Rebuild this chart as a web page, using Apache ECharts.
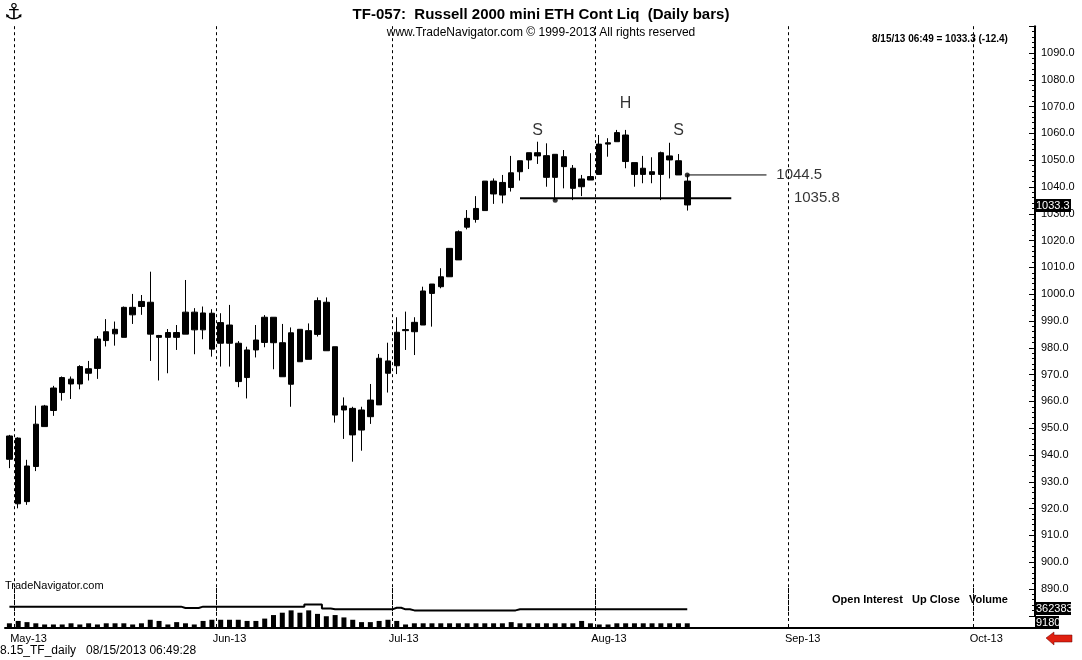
<!DOCTYPE html>
<html><head><meta charset="utf-8">
<script src="https://cdn.jsdelivr.net/npm/echarts@6/dist/echarts.min.js"></script>
<style>html,body{margin:0;padding:0;background:#fff}#c{width:1082px;height:660px}</style>
</head><body><div id="c"></div>
<script>
// OHLC per trading day: [open, close, low, high]
const ohlc = [
[938.4,947.1,935.1,947.5],[946.3,921.8,920.1,946.6],[922.6,935.9,921.4,938.2],[935.7,951.5,934.0,958.4],
[950.6,958.3,950.6,958.7],[956.6,965.0,954.6,965.8],[963.3,968.9,960.3,969.3],[966.5,968.3,960.9,969.3],
[966.5,973.0,964.5,973.5],[970.5,972.2,967.8,975.1],[972.3,983.3,968.4,984.4],[982.7,986.0,980.5,990.7],
[985.2,986.9,980.8,989.8],[983.9,995.1,983.9,995.4],[992.3,995.1,988.9,1000.1],[995.4,997.3,992.3,999.7],
[997.0,985.1,975.1,1008.4],[984.6,983.9,967.8,984.8],[983.9,985.7,970.5,987.0],[983.9,985.7,979.2,988.5],
[985.1,993.3,985.1,1005.3],[993.3,986.7,977.6,994.8],[986.7,993.0,983.2,995.4],[992.9,979.5,976.7,994.4],
[989.4,981.7,973.0,992.9],[988.5,981.7,973.0,996.0],[981.7,967.4,965.3,982.5],[979.2,968.9,961.1,980.4],
[979.2,982.9,976.4,988.5],[982.0,991.4,980.2,992.2],[991.4,981.9,972.0,991.4],[981.9,969.2,969.2,988.9],
[985.6,966.4,958.0,987.6],[974.8,986.9,974.8,986.9],[975.7,986.4,975.7,989.1],[985.0,997.6,984.2,998.8],
[997.0,978.9,978.9,998.8],[980.4,954.9,952.1,980.4],[956.8,958.3,946.0,961.5],[957.4,947.5,937.5,958.0],
[949.3,956.8,941.6,958.0],[954.3,960.5,951.6,966.5],[958.7,976.1,958.7,977.7],[970.5,975.1,963.3,981.9],
[973.3,985.8,970.2,991.4],[986.4,986.8,979.2,993.5],[986.0,989.5,977.3,991.4],[988.5,1001.2,988.5,1002.8],
[1000.3,1003.8,987.9,1003.8],[1002.8,1006.5,1002.2,1009.7],[1006.5,1017.1,1006.5,1017.1],[1012.8,1023.3,1012.8,1023.8],
[1025.0,1028.3,1024.2,1031.4],[1027.9,1032.0,1026.7,1036.6],[1031.2,1042.2,1031.2,1042.2],[1037.4,1042.2,1033.7,1043.2],
[1037.0,1041.7,1033.9,1044.5],[1039.8,1045.3,1038.3,1051.6],[1045.7,1049.8,1042.4,1049.8],[1050.1,1052.8,1046.7,1052.8],
[1051.6,1052.8,1048.6,1056.9],[1051.7,1043.6,1040.1,1056.3],[1052.2,1043.6,1035.1,1052.2],[1047.6,1051.3,1039.5,1053.8],
[1047.0,1039.5,1035.1,1048.2],[1040.1,1043.0,1036.6,1044.5],[1042.6,1043.9,1042.6,1052.6],[1044.7,1056.0,1044.7,1059.4],
[1056.0,1056.5,1051.3,1058.2],[1056.9,1060.3,1056.9,1061.3],[1059.4,1049.5,1047.0,1061.3],[1049.1,1044.7,1040.1,1049.1],
[1047.0,1044.7,1041.4,1051.6],[1045.7,1044.7,1041.4,1051.1],[1044.7,1052.8,1035.1,1053.2],[1051.6,1050.1,1043.2,1056.5],
[1049.8,1044.5,1044.5,1052.3],[1042.2,1033.3,1031.2,1044.5]
];
const volume = [4,6,5,4,3,3,3,4,3,4,3,4,4,4,3,4,7,6,3,5,4,3,6,7,7,7,7,6,6,8,11,13,15,13,15,12,10,11,9,7,5,5,6,7,6,3,4,4,4,4,4,4,4,4,4,4,4,5,4,4,4,4,4,4,4,6,4,3,3,4,4,4,4,4,4,4,4,4];
const openInterest = [363,363,363,363,363,363,363,363,363,363,363,363,363,363,363,363,363,363,363,363,362.5,362.5,363,363,363,363,363,363,363,363,363,363,363,363,363.8,363.8,362.3,362,362,362,362,362,362,362,362.6,362,361.6,361.6,361.6,361.6,361.6,361.6,361.6,361.6,361.6,361.6,361.6,361.6,362,362,362,362,362,362,362,362,362,362,362,362,362,362,362,362,362,362,362,362];
const totalSlots = 117;
const monthTicks = {1:'May-13',24:'Jun-13',44:'Jul-13',67:'Aug-13',89:'Sep-13',110:'Oct-13'};
const necklineLevel = 1035.8, breakLevel = 1044.5;
const necklineSpan = [58, 82], breakSpan = [77, 86];
const patternLabels = [['S',59.8,1061],['H',69.7,1071],['S',75.9,1061]];
const dots = [[62,1035.1],[77,1044.5]];

const cats = Array.from({length: totalSlots}, (_, i) => 'd' + i);
const monthIdx = Object.keys(monthTicks).map(Number);
const splitCfg = {show:true, interval:(i)=>monthIdx.includes(i), lineStyle:{color:'#000',type:[3,3],width:1}};

const chart = echarts.init(document.getElementById('c'));
chart.setOption({
  animation:false,
  textStyle:{fontFamily:'Liberation Sans, Arial, sans-serif'},
  title:[
    {text:'TF-057:  Russell 2000 mini ETH Cont Liq  (Daily bars)', left:'center', top:2, textStyle:{fontSize:15,fontWeight:'bold',color:'#000'}},
    {text:'www.TradeNavigator.com © 1999-2013 All rights reserved', left:'center', top:22, textStyle:{fontSize:12,fontWeight:'normal',color:'#000'}}
  ],
  grid:[
    {left:5,right:47,top:26.2,height:589.6},
    {left:5,right:47,top:588,bottom:32}
  ],
  xAxis:[
    {type:'category',data:cats,gridIndex:0,axisLine:{show:false},axisTick:{show:false},axisLabel:{show:false},splitLine:splitCfg},
    {type:'category',data:cats,gridIndex:1,axisLine:{lineStyle:{color:'#000',width:2}},axisTick:{show:false},
     axisLabel:{interval:(i)=>monthIdx.includes(i),formatter:(v,i)=>monthTicks[i]||'',color:'#000',fontSize:11,margin:5,align:'left',padding:[0,0,0,-8]},
     splitLine:splitCfg}
  ],
  yAxis:[
    {type:'value',gridIndex:0,position:'right',min:880,max:1100,interval:10,
     axisLine:{show:true,lineStyle:{color:'#000',width:2}},axisTick:{show:true,length:6,inside:true,lineStyle:{color:'#000'}},
     minorTick:{show:true,splitNumber:5,length:3,lineStyle:{color:'#000'}},
     axisLabel:{formatter:v=>(v>=890&&v<=1090)?v.toFixed(1):'',color:'#000',fontSize:11,margin:6},splitLine:{show:false}},
    {type:'value',gridIndex:1,position:'right',min:0,max:34,show:false},
    {type:'value',gridIndex:1,position:'right',min:355,max:370,show:false}
  ],
  series:[
    {type:'candlestick',xAxisIndex:0,yAxisIndex:0,data:ohlc,barWidth:6,
     itemStyle:{color:'#000',color0:'#000',borderColor:'#000',borderColor0:'#000',borderWidth:1}},
    {type:'line',xAxisIndex:0,yAxisIndex:0,data:[[necklineSpan[0],necklineLevel],[necklineSpan[1],necklineLevel]],symbol:'none',lineStyle:{color:'#000',width:2}},
    {type:'line',xAxisIndex:0,yAxisIndex:0,data:[[breakSpan[0],breakLevel],[breakSpan[1],breakLevel]],symbol:'none',lineStyle:{color:'#000',width:1}},
    {type:'scatter',xAxisIndex:0,yAxisIndex:0,data:dots,symbolSize:5,itemStyle:{color:'#000'}},
    {type:'scatter',xAxisIndex:0,yAxisIndex:0,symbolSize:0,
     data:[{value:[breakSpan[1]+0.8,breakLevel],name:'1044.5'},{value:[88.5,necklineLevel],name:'1035.8'}],
     label:{show:true,position:'right',formatter:p=>p.name,fontSize:15,color:'#000',offset:[-4,0]}},
    {type:'scatter',xAxisIndex:0,yAxisIndex:0,symbolSize:0,
     data:patternLabels.map(a=>({value:[a[1],a[2]],name:a[0]})),
     label:{show:true,position:'inside',formatter:p=>p.name,fontSize:16,color:'#000'}},
    {type:'bar',xAxisIndex:1,yAxisIndex:1,data:volume,barWidth:5,itemStyle:{color:'#000'}},
    {type:'line',xAxisIndex:1,yAxisIndex:2,data:openInterest,symbol:'none',step:'middle',lineStyle:{color:'#000',width:2}}
  ],
  graphic:[
    {type:'text',left:872,top:34,style:{text:'8/15/13 06:49 = 1033.3 (-12.4)',font:'bold 10px Liberation Sans, Arial',fill:'#000'}},
    {type:'rect',shape:{x:1035,y:199,width:36,height:13},style:{fill:'#000'}},
    {type:'text',left:1036,top:200,style:{text:'1033.3',font:'11px Liberation Sans, Arial',fill:'#fff'}},
    {type:'rect',shape:{x:1035,y:602,width:36,height:13},style:{fill:'#000'}},
    {type:'text',left:1036,top:603,style:{text:'362383',font:'11px Liberation Sans, Arial',fill:'#fff'}},
    {type:'rect',shape:{x:1035,y:616,width:24,height:13},style:{fill:'#000'}},
    {type:'text',left:1036,top:617,style:{text:'9180',font:'11px Liberation Sans, Arial',fill:'#fff'}},
    {type:'text',left:832,top:594,style:{text:'Open Interest   Up Close   Volume',font:'bold 11px Liberation Sans, Arial',fill:'#000'}},
    {type:'text',left:5,top:580,style:{text:'TradeNavigator.com',font:'11px Liberation Sans, Arial',fill:'#000'}},
    {type:'text',left:0,top:645,style:{text:'8.15_TF_daily   08/15/2013 06:49:28',font:'12px Liberation Sans, Arial',fill:'#000'}},
    {type:'polygon',shape:{points:[[1046,638],[1054,632],[1054,635],[1072,635],[1072,642],[1054,642],[1054,645]]},style:{fill:'#e02010',stroke:'#600',lineWidth:0.5}},
    {type:'text',left:4,top:2,style:{text:'⚓',font:'bold 22px DejaVu Sans',fill:'#000'}}
  ]
});
</script></body></html>
